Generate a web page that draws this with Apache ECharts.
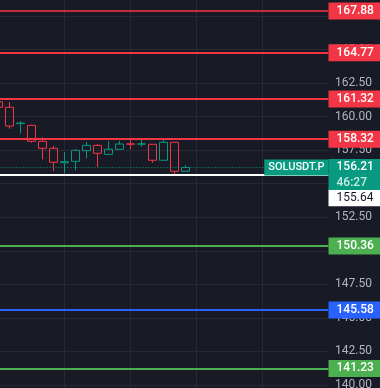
<!DOCTYPE html>
<html><head><meta charset="utf-8">
<script src="https://cdn.jsdelivr.net/npm/echarts@6/dist/echarts.min.js"></script>
<style>html,body{margin:0;padding:0;background:#181b25}#c{width:380px;height:388px}</style>
</head><body><div id="c"></div>
<script>
// ---- data ----
const categories = ['0','1','2','3','4','5','6','7','8','9','10','11','12','13','14','15','16','17','18','19','20','21','22','23','24','25','26','27','28','29','30'];
const opens  = [161.11, 160.70, 159.48, 159.35, 158.16, 157.64, 156.56, 156.67, 157.46, 157.86, 157.19, 157.57, 157.97, 157.95, 157.94, 156.75, 158.09, 155.93];
const closes = [160.70, 159.30, 159.52, 158.16, 157.64, 156.60, 156.65, 157.49, 157.86, 157.27, 157.57, 157.96, 157.95, 157.97, 156.75, 158.09, 155.93, 156.21];
const lows   = [160.69, 159.10, 158.76, 158.06, 156.82, 155.93, 155.78, 156.00, 156.89, 156.25, 157.19, 157.57, 157.57, 157.76, 156.57, 156.75, 155.67, 155.93];
const highs  = [161.11, 161.09, 159.67, 159.40, 158.46, 157.81, 157.36, 157.57, 158.11, 157.96, 158.18, 158.18, 158.28, 158.26, 157.94, 158.26, 158.09, 156.40];
const resistanceLevels = [167.88, 164.77, 161.32, 158.32];
const supportLevels = [150.36, 141.23];
const pivotLevels = [145.58];
const previousClose = 155.64;
const lastPrice = 156.21;
const symbolName = 'SOLUSDT.P';
const countdown = '46:27';
const yMin = 137.5, yMax = 170, yInterval = 2.5;

// ---- chart ----
const RED = '#f23645', GREEN = '#4caf50', BLUE = '#2962ff', TEAL = '#089981';
const candleData = opens.map((o, i) => [o, closes[i], lows[i], highs[i]]);

function boxLabel(bg, fg) {
  return {
    show: true, position: 'end', distance: 0,
    formatter: p => Number(p.value).toFixed(2),
    backgroundColor: bg, color: fg, padding: [3, 8, 2, 8],
    fontSize: 12, lineHeight: 12, fontWeight: 500, fontFamily: 'Roboto'
  };
}
function level(v, lineColor, bg, fg) {
  return { yAxis: v, lineStyle: { color: lineColor, width: 2, type: 'solid' }, label: boxLabel(bg, fg) };
}

const mlData = [];
resistanceLevels.forEach((v, i) => mlData.push(level(v, i === 0 ? '#c22f3c' : RED, RED, '#ffffff')));
supportLevels.forEach(v => mlData.push(level(v, GREEN, GREEN, '#ffffff')));
pivotLevels.forEach(v => mlData.push(level(v, BLUE, BLUE, '#ffffff')));
mlData.push({
  yAxis: previousClose,
  lineStyle: { color: '#ffffff', width: 2, type: 'solid' },
  label: {
    show: true, position: 'end', distance: 0,
    formatter: p => '{s| }\n{b|' + Number(p.value).toFixed(2) + '}',
    rich: {
      s: { height: 45, lineHeight: 45 },
      b: { backgroundColor: '#ffffff', color: '#131722', fontSize: 12, fontFamily: 'Roboto', height: 17, lineHeight: 17, padding: [0, 8, 0, 8] }
    }
  }
});
mlData.push({
  yAxis: lastPrice,
  lineStyle: { color: TEAL, width: 1, type: [1, 2] },
  label: {
    show: true, position: 'insideEnd', distance: 0,
    formatter: symbolName,
    backgroundColor: TEAL, color: '#ffffff', padding: [2, 4, 2, 4],
    fontSize: 11, lineHeight: 12, fontWeight: 500, fontFamily: 'Roboto'
  }
});
mlData.push({
  yAxis: lastPrice,
  lineStyle: { color: 'transparent', width: 0 },
  label: {
    show: true, position: 'end', distance: 0,
    formatter: p => '{s| }\n{p|' + Number(p.value).toFixed(2) + '}\n{t|' + countdown + '}',
    rich: {
      s: { height: 14, lineHeight: 14 },
      p: { backgroundColor: TEAL, color: '#ffffff', fontSize: 12, fontWeight: 500, fontFamily: 'Roboto', width: 36, height: 17, lineHeight: 17, padding: [0, 8, 0, 8] },
      t: { backgroundColor: TEAL, color: '#c8ece4', fontSize: 12, fontWeight: 500, fontFamily: 'Roboto', width: 36, height: 14, lineHeight: 14, padding: [0, 8, 0, 8] }
    }
  }
});

const chart = echarts.init(document.getElementById('c'), null, { renderer: 'canvas' });
chart.setOption({
  animation: false,
  backgroundColor: '#181b25',
  textStyle: { fontFamily: 'Roboto' },
  grid: { left: -1.5, right: 51.5, top: -17.5, bottom: -30.5, containLabel: false, outerBoundsMode: 'none' },
  xAxis: {
    type: 'category', data: categories, boundaryGap: false,
    axisLine: { show: false }, axisTick: { show: false }, axisLabel: { show: false },
    splitLine: { show: true, interval: 5, showMinLine: false, showMaxLine: false, lineStyle: { color: '#262a35', width: 1 } }
  },
  yAxis: {
    type: 'value', position: 'right', min: yMin, max: yMax, interval: yInterval, scale: true,
    axisLine: { show: false }, axisTick: { show: false },
    axisLabel: { color: '#b2b5be', fontSize: 12, align: 'right', margin: 43.5, formatter: v => v.toFixed(2) },
    splitLine: { show: true, lineStyle: { color: '#262a35', width: 1 } }
  },
  series: [{
    type: 'candlestick',
    data: candleData,
    barWidth: 8,
    itemStyle: { color: 'transparent', color0: 'transparent', borderColor: TEAL, borderColor0: RED, borderWidth: 1 },
    markLine: { symbol: ['none', 'none'], silent: true, animation: false, data: mlData }
  }]
});
</script></body></html>
